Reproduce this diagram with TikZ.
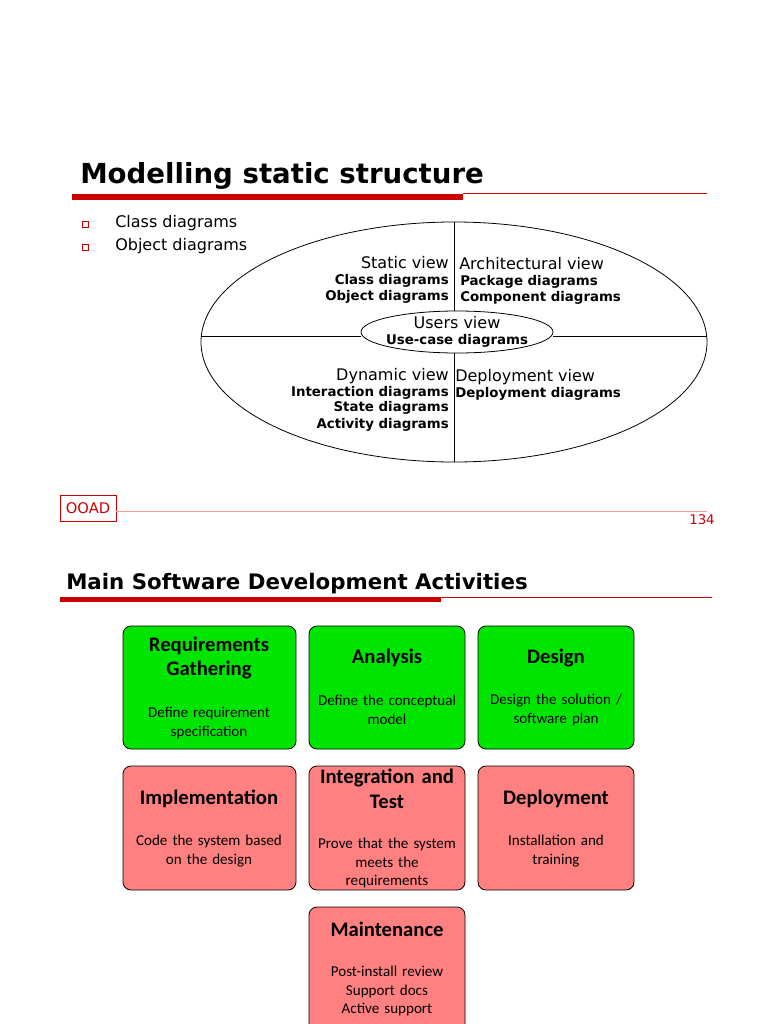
\documentclass[tikz,border=0pt]{standalone}
\usepackage{fontspec}
\setmainfont{DejaVu Sans}
\newfontfamily\calfont{Carlito}
\begin{document}
\begin{tikzpicture}[x=0.75pt,y=-0.75pt,
 vtxt/.style={inner sep=0pt,font=\fontsize{12}{13}\selectfont},
 btxt/.style={inner sep=0pt,font=\bfseries\fontsize{10}{11}\selectfont},
 actbox/.style={draw=black,rounded corners=6pt,line width=0.6pt},
 grn/.style={actbox,fill=green!90!black},
 pnk/.style={actbox,fill=red!50!white},
 head/.style={font=\calfont\bfseries\fontsize{15.5}{18.5}\selectfont,align=center,text width=125pt},
 body/.style={font=\calfont\fontsize{11.3}{14}\selectfont,align=center,text width=125pt}]
\useasboundingbox (0,0) rectangle (768,1024);
\fill[white] (0,0) rectangle (768,1024);
% slide 1
\node[anchor=base west,inner sep=0pt,font=\bfseries\fontsize{20.7}{24}\selectfont] (t1) at (80,183) {Modelling static structure};
\fill[red!80!black] (72,194) rectangle (463,200);
\draw[red!80!black,line width=0.5pt] (463,193) -- (707,193);
\draw[red!80!black,line width=0.7pt] (82,221) rectangle (88,227);
\draw[red!80!black,line width=0.7pt] (82,244) rectangle (88,250);
\node[anchor=west,vtxt] (b1) at (115,223) {Class diagrams};
\node[anchor=west,vtxt] (b2) at (115,246) {Object diagrams};
\draw[line width=0.6pt] (454,342) ellipse (253 and 120);
\draw[line width=0.6pt] (454,222) -- (454,312);
\draw[line width=0.6pt] (454,352) -- (454,462);
\draw[line width=0.6pt] (201,336) -- (361,336);
\draw[line width=0.6pt] (553,336) -- (707,336);
\draw[line width=0.6pt,fill=white] (457,332) ellipse (96 and 21);
\node[anchor=east,vtxt] at (449,263) {Static view};
\node[anchor=east,btxt] at (449,281) {Class diagrams};
\node[anchor=east,btxt] at (449,297) {Object diagrams};
\node[anchor=west,vtxt] at (459,264) {Architectural view};
\node[anchor=west,btxt] at (460,282) {Package diagrams};
\node[anchor=west,btxt] at (460,298) {Component diagrams};
\node[vtxt] at (457,323) {Users view};
\node[btxt] at (457,341) {Use-case diagrams};
\node[anchor=east,vtxt] at (449,376) {Dynamic view};
\node[anchor=east,btxt] at (449,393) {Interaction diagrams};
\node[anchor=east,btxt] at (449,408) {State diagrams};
\node[anchor=east,btxt] at (449,425) {Activity diagrams};
\node[anchor=west,vtxt] at (455,377) {Deployment view};
\node[anchor=west,btxt] at (455,394) {Deployment diagrams};
\node[draw=red!80!black,text=red!80!black,line width=0.6pt,minimum width=42pt,minimum height=19pt,inner sep=1pt,font=\fontsize{11}{12}\selectfont] (oo) at (88,508.5) {OOAD};
\coordinate (le) at (707,511);
\draw[red!40,line width=0.4pt] (oo.east |- le) -- (le);
\node[text=red!80!black,font=\fontsize{10}{12}\selectfont,inner sep=0pt] at (702,520) {134};
% slide 2
\node[anchor=base west,inner sep=0pt,font=\bfseries\fontsize{16}{18}\selectfont] (t2) at (66,589) {Main Software Development Activities};
\fill[red!80!black] (60,597) rectangle (441,602);
\draw[red!80!black,line width=0.5pt] (441,597) -- (712,597);
\draw[grn] (123,626) rectangle (296,749);
\node[head] at (209,658) {Requirements\\Gathering};
\node[body] at (209,723) {Define requirement\\specification};
\draw[grn] (309,626) rectangle (465,749);
\node[head] at (387,658) {Analysis};
\node[body] at (387,710) {Define the conceptual\\model};
\draw[grn] (478,626) rectangle (634,749);
\node[head] at (556,658) {Design};
\node[body] at (556,710) {Design the solution /\\software plan};
\draw[pnk] (123,766) rectangle (296,890);
\node[head] at (209,799) {Implementation};
\node[body] at (209,851) {Code the system based\\on the design};
\draw[pnk] (309,766) rectangle (465,890);
\node[head] at (387,789) {Integration and\\Test};
\node[body] at (387,863) {Prove that the system\\meets the\\requirements};
\draw[pnk] (478,766) rectangle (634,890);
\node[head] at (556,799) {Deployment};
\node[body] at (556,851) {Installation and\\training};
\draw[pnk] (309,907) rectangle (465,1040);
\node[head] at (387,929) {Maintenance};
\node[body] at (387,991) {Post-install review\\Support docs\\Active support};
\end{tikzpicture}
\end{document}
